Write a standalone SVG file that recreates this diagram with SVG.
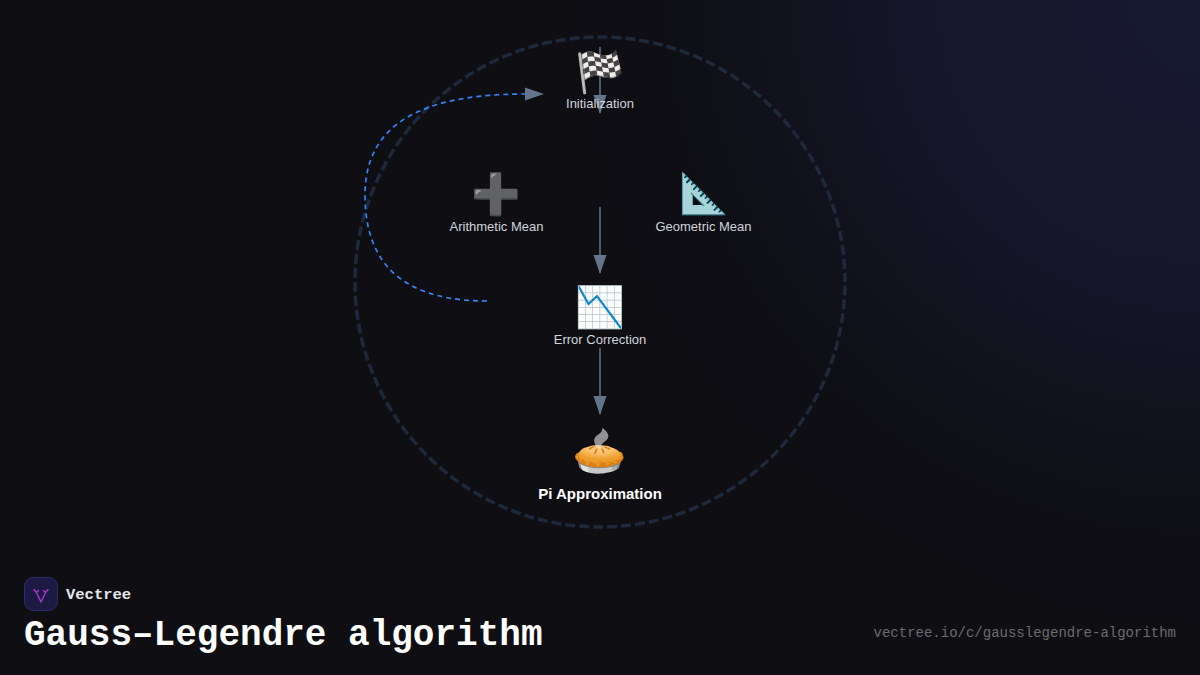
<svg xmlns="http://www.w3.org/2000/svg" width="1200" height="675" viewBox="0 0 1200 675">
<style>
.lb{font-family:"Liberation Sans",Arial,sans-serif;font-size:13px;fill:#d1d5db;text-anchor:middle}
.em{font-family:"Noto Color Emoji","Liberation Sans",sans-serif;text-anchor:middle}
.mono{font-family:"Liberation Mono","DejaVu Sans Mono",monospace}
.e{fill:none;stroke:#64748b;stroke-width:1.5}
</style>
<defs>
<radialGradient id="glow" gradientUnits="userSpaceOnUse" cx="1200" cy="0" r="640"><stop offset="0" stop-color="#171931"/><stop offset=".45" stop-color="#15162a"/><stop offset=".65" stop-color="#11121d"/><stop offset=".85" stop-color="#0e0e14"/><stop offset="1" stop-color="#0e0e13"/></radialGradient>
<marker id="ar" markerUnits="userSpaceOnUse" markerWidth="20" markerHeight="14" refX="18" refY="7" orient="auto"><path d="M0 0.500L19 7L0 13.500Z" fill="#64748b"/></marker>
<filter id="teal" color-interpolation-filters="sRGB" x="-5%" y="-5%" width="110%" height="110%"><feColorMatrix type="matrix" values="0 1.440 0 0 -0.560  0 1.120 0 0 -0.122  0 1 0 0 0  0 0 0 1 0"/></filter>
</defs>
<rect width="1200" height="675" fill="url(#glow)"/>
<circle cx="600" cy="282" r="245" fill="none" stroke="#1e293b" stroke-width="3.500" stroke-dasharray="10 4" stroke-dashoffset="10.500"/>
<g id="connectors">
<path class="e" d="M600 47V113" marker-end="url(#ar)"/>
<path class="e" d="M600 207V273" marker-end="url(#ar)"/>
<path class="e" d="M600 348V414" marker-end="url(#ar)"/>
<path d="M487 301C410 301 365 270 365 195C365 125 420 94 525 94" fill="none" stroke="#3b82f6" stroke-width="1.700" stroke-dasharray="5 4"/>
<path d="M525 87.500L544 94L525 100.500Z" fill="#64748b"/>
</g>
<g id="node-init"><text class="em" x="600" y="86" font-size="40">🏁</text><text class="lb" x="600" y="108">Initialization</text></g>
<g id="node-arith"><text class="em" x="496.500" y="208" font-size="40">➕</text><text class="lb" x="496.500" y="231">Arithmetic Mean</text></g>
<g id="node-geo"><path d="M683.500 174L724 214.500H683.500ZM692.700 195V205H705Z" fill="#a8d5da" fill-rule="evenodd"/><text class="em" x="704.500" y="207" font-size="40" filter="url(#teal)">📐</text><text class="lb" x="703.500" y="231">Geometric Mean</text></g>
<g id="node-err"><text class="em" x="600" y="321" font-size="40">📉</text><text class="lb" x="600" y="344">Error Correction</text></g>
<g id="node-pi"><text class="em" x="600" y="466" font-size="44">🥧</text><text class="lb" x="600" y="499" style="font-size:15px;font-weight:700;fill:#fff">Pi Approximation</text></g>
<g id="brand">
<rect x="24.500" y="577.500" width="33" height="33" rx="9" fill="#1c1a42" stroke="#2e2b70"/>
<path d="M41 602L36 591.500M41 602L46 591.500M36.500 592.500L34 589.500M36.500 592.500L38.500 590.500M45.500 592.500L48 589.500M45.500 592.500L43.500 590.500" fill="none" stroke="#a433c9" stroke-width="1.500" stroke-linecap="round"/>
<text class="mono" x="66" y="598.500" font-size="15.500" font-weight="700" fill="#e5e7eb">Vectree</text>
</g>
<text class="mono" x="24" y="645" font-size="36" font-weight="700" fill="#fff">Gauss–Legendre algorithm</text>
<text class="mono" x="1176" y="637" font-size="14" fill="#6c6c70" text-anchor="end">vectree.io/c/gausslegendre-algorithm</text>
</svg>
